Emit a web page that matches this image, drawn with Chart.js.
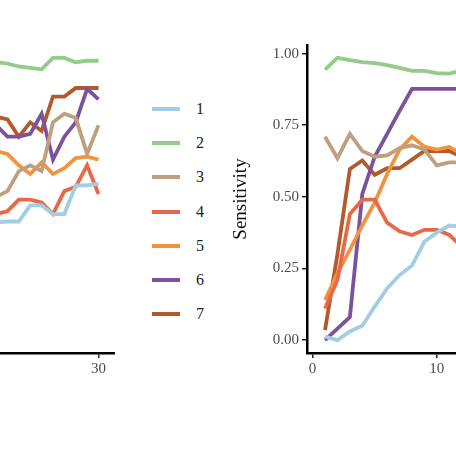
<!DOCTYPE html>
<html>
<head>
<meta charset="utf-8">
<script src="https://cdn.jsdelivr.net/npm/chart.js@4"></script>
<style>
  html, body { margin: 0; width: 456px; height: 456px; overflow: hidden; background: #fff; position: relative; }
  canvas { position: absolute; top: 0; }
  #right { left: 230px; }
  #legend { position: absolute; left: 152px; top: 92px; font-family: "Liberation Serif", serif; font-size: 16px; color: #222; }
  .item { height: 34.2px; display: flex; align-items: center; }
  .key { width: 28px; height: 4px; margin-right: 16px; }
</style>
</head>
<body>
<div style="position:absolute;left:-300px;top:0;width:415px;height:456px"><canvas id="left"></canvas></div>
<div id="legend"></div>
<script>
const seriesNames = ['1', '2', '3', '4', '5', '6', '7'];
const seriesColors = ['#a3cde3', '#93cc88', '#bf9f7d', '#e8694a', '#f09440', '#7b539c', '#b3592b'];

// left panel (only the tail is visible)
const leftX = [20, 21, 22, 23, 24, 25, 26, 27, 28, 29, 30];
const left1 = [0.41, 0.41, 0.414, 0.414, 0.47, 0.47, 0.44, 0.44, 0.54, 0.54, 0.545];
const left2 = [0.97, 0.97, 0.965, 0.955, 0.95, 0.945, 0.985, 0.985, 0.97, 0.975, 0.975];
const left3 = [0.55, 0.50, 0.52, 0.59, 0.61, 0.59, 0.76, 0.79, 0.775, 0.65, 0.75];
const left4 = [0.47, 0.44, 0.45, 0.49, 0.49, 0.48, 0.44, 0.52, 0.535, 0.61, 0.51];
const left5 = [0.68, 0.66, 0.65, 0.61, 0.58, 0.62, 0.58, 0.60, 0.635, 0.64, 0.63];
const left6 = [0.74, 0.75, 0.71, 0.71, 0.72, 0.79, 0.63, 0.71, 0.76, 0.877, 0.84];
const left7 = [0.80, 0.78, 0.77, 0.71, 0.76, 0.73, 0.85, 0.85, 0.88, 0.88, 0.88];

// right panel (only the start is visible)
const rightX = [1, 2, 3, 4, 5, 6, 7, 8, 9, 10, 11, 12, 13];
const right1 = [0.012, 0.0, 0.03, 0.05, 0.117, 0.18, 0.227, 0.26, 0.344, 0.375, 0.40, 0.396, 0.39];
const right2 = [0.944, 0.985, 0.977, 0.97, 0.967, 0.96, 0.95, 0.94, 0.94, 0.932, 0.93, 0.94, 0.93];
const right3 = [0.71, 0.635, 0.72, 0.66, 0.64, 0.645, 0.67, 0.68, 0.665, 0.61, 0.62, 0.62, 0.62];
const right4 = [0.11, 0.21, 0.44, 0.49, 0.49, 0.41, 0.38, 0.367, 0.385, 0.385, 0.367, 0.326, 0.33];
const right5 = [0.14, 0.233, 0.315, 0.40, 0.48, 0.58, 0.665, 0.71, 0.675, 0.665, 0.674, 0.65, 0.65];
const right6 = [0.0, 0.04, 0.08, 0.51, 0.64, 0.72, 0.80, 0.877, 0.877, 0.877, 0.877, 0.877, 0.877];
const right7 = [0.035, 0.30, 0.597, 0.627, 0.577, 0.60, 0.60, 0.63, 0.66, 0.66, 0.66, 0.64, 0.64];

const yTicks = [0, 0.25, 0.5, 0.75, 1];
const xTicks = [0, 10, 20, 30];

const FONT = { family: '"Liberation Serif", serif', size: 15 };

function build(xs, cols) {
    return cols.map((vals, i) => ({
        label: seriesNames[i],
        data: vals.map((v, j) => ({ x: xs[j], y: v })),
        borderColor: seriesColors[i],
        backgroundColor: seriesColors[i],
        borderWidth: 3.8,
        pointRadius: 0,
        tension: 0,
    }));
}

function makeChart(canvasEl, w, datasets, yWidth, padRight, xMax) {
    canvasEl.width = w; canvasEl.height = 456;
    canvasEl.style.width = w + 'px'; canvasEl.style.height = '456px';
    return new Chart(canvasEl.getContext('2d'), {
        type: 'line',
        data: { datasets },
        options: {
            responsive: false,
            animation: false,
            layout: { padding: { top: 45, right: padRight, bottom: 0, left: 0 } },
            plugins: { legend: { display: false }, tooltip: { enabled: false } },
            scales: {
                x: {
                    type: 'linear', min: -0.45, max: xMax,
                    afterBuildTicks: s => { s.ticks = xTicks.map(v => ({ value: v })); },
                    afterFit: s => { s.height = 103; },
                    ticks: { font: FONT, color: '#4d4d4d', padding: 2 },
                    grid: { drawOnChartArea: false, tickLength: 5, color: '#222', lineWidth: 1.5 },
                    border: { color: '#000', width: 2.5 },
                },
                y: {
                    min: -0.045, max: 1.03,
                    afterBuildTicks: s => { s.ticks = yTicks.map(v => ({ value: v })); },
                    afterFit: s => { s.width = yWidth; },
                    ticks: { font: FONT, color: '#4d4d4d', padding: 3, callback: v => v.toFixed(2) },
                    grid: { drawOnChartArea: false, tickLength: 5, color: '#222', lineWidth: 1.5 },
                    border: { color: '#000', width: 2.5 },
                    title: { display: true, text: 'Sensitivity', font: { family: FONT.family, size: 19 }, color: '#111', padding: 0 },
                },
            },
        },
    });
}

makeChart(document.getElementById('left'), 415, build(leftX, [left1, left2, left3, left4, left5, left6, left7]), 52, 0, 31.45);

const rc = document.createElement('canvas');
rc.id = 'right';
document.body.appendChild(rc);
makeChart(rc, 470, build(rightX, [right1, right2, right3, right4, right5, right6, right7]), 77, 9, 30.45);

const legend = document.getElementById('legend');
seriesNames.forEach((n, i) => {
    const row = document.createElement('div');
    row.className = 'item';
    row.innerHTML = '<div class="key" style="background:' + seriesColors[i] + '"></div><span>' + n + '</span>';
    legend.appendChild(row);
});
</script>
</body>
</html>
